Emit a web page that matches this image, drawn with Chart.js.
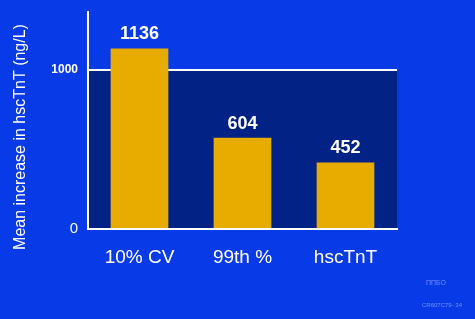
<!DOCTYPE html>
<html>
<head>
<meta charset="utf-8">
<script src="https://cdn.jsdelivr.net/npm/chart.js@4"></script>
<style>
  html, body { margin: 0; padding: 0; background: rgb(8,58,232); }
  #wrap { width: 475px; height: 319px; }
</style>
</head>
<body>
<div id="wrap"><canvas id="c" width="475" height="319"></canvas></div>
<script>
// ---- data ----
const categories = ["10% CV", "99th %", "hscTnT"];
const barValues = [1136, 574, 419];          // bar heights as drawn
const valueLabels = ["1136", "604", "452"];  // numbers printed above bars
const yTickValues = [0, 1000];
const yTitle = "Mean increase in hscTnT (ng/L)";
const watermark = ["ППБО", "CR607C79- 34"];

const BG = "rgb(8,58,232)";
const NAVY = "rgb(2,34,134)";
const GOLD = "rgb(232,172,0)";
const FONT = "'Liberation Sans', Arial, sans-serif";

const bgPlugin = {
  id: "bg",
  beforeDraw(chart) {
    const { ctx, chartArea, scales } = chart;
    ctx.save();
    ctx.fillStyle = BG;
    ctx.fillRect(0, 0, chart.width, chart.height);
    const yTop = scales.y.getPixelForValue(1000);
    const yBot = scales.y.getPixelForValue(0);
    ctx.fillStyle = NAVY;
    ctx.fillRect(chartArea.left, yTop, chartArea.right - chartArea.left, yBot - yTop);
    ctx.restore();
  }
};

const labelPlugin = {
  id: "labels",
  afterDatasetsDraw(chart) {
    const { ctx } = chart;
    const meta = chart.getDatasetMeta(0);
    ctx.save();
    ctx.fillStyle = "#ffffff";
    ctx.font = "bold 18px " + FONT;
    ctx.textAlign = "center";
    ctx.textBaseline = "middle";
    meta.data.forEach((bar, i) => {
      ctx.fillText(valueLabels[i], bar.x, bar.y - 14);
    });
    // y title
    ctx.font = "16px " + FONT;
    ctx.translate(20.5, 137);
    ctx.rotate(-Math.PI / 2);
    ctx.fillText(yTitle, 0, 0);
    ctx.restore();
    // watermark
    ctx.save();
    ctx.fillStyle = "rgba(140,165,250,0.8)";
    ctx.textAlign = "center";
    ctx.textBaseline = "middle";
    ctx.font = "7px " + FONT;
    ctx.fillText(watermark[0], 436, 283);
    ctx.font = "6px " + FONT;
    ctx.fillText(watermark[1], 442, 305);
    ctx.restore();
  }
};

new Chart(document.getElementById("c"), {
  type: "bar",
  data: {
    labels: categories,
    datasets: [{
      data: barValues,
      backgroundColor: GOLD,
      borderWidth: 0,
      barPercentage: 0.56,
      categoryPercentage: 1.0
    }]
  },
  options: {
    responsive: false,
    animation: false,
    devicePixelRatio: 1,
    layout: { padding: { left: 0, top: 12, right: 78, bottom: 0 } },
    plugins: { legend: { display: false }, tooltip: { enabled: false } },
    scales: {
      x: {
        grid: { display: false },
        border: { display: true, color: "#ffffff", width: 2 },
        ticks: {
          color: "#ffffff",
          font: { family: FONT, size: 19 },
          padding: 9
        },
        afterFit(s) { s.height = 90; s.paddingLeft = 0; s.paddingRight = 0; }
      },
      y: {
        min: 0,
        max: 1365,
        afterBuildTicks(s) { s.ticks = yTickValues.map(v => ({ value: v })); },
        grid: {
          drawTicks: false,
          color: (c) => (c.tick && c.tick.value === 1000) ? "#ffffff" : "rgba(0,0,0,0)",
          lineWidth: 2
        },
        border: { display: true, color: "#ffffff", width: 2 },
        ticks: {
          color: "#ffffff",
          padding: 10,
          callback: (v) => String(v),
          font: (c) => (c.tick && c.tick.value === 1000)
            ? { family: FONT, size: 12, weight: "bold" }
            : { family: FONT, size: 15 }
        },
        afterFit(s) { s.width = 88; s.paddingTop = 0; s.paddingBottom = 0; }
      }
    }
  },
  plugins: [bgPlugin, labelPlugin]
});
</script>
</body>
</html>
